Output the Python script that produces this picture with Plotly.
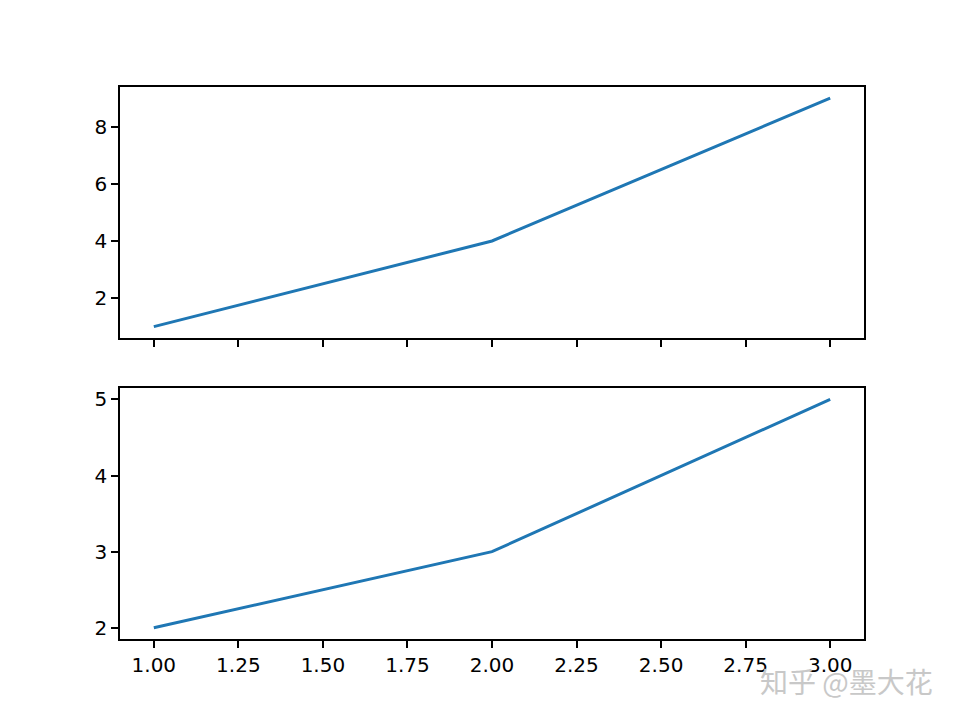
import plotly.graph_objects as go
from plotly.subplots import make_subplots

# data
x_vals = [1, 2, 3]
y_top = [1, 4, 9]
y_bottom = [2, 3, 5]

x_ticks = [1.0, 1.25, 1.5, 1.75, 2.0, 2.25, 2.5, 2.75, 3.0]
x_tick_text = ['1.00', '1.25', '1.50', '1.75', '2.00', '2.25', '2.50', '2.75', '3.00']

line_color = '#1f77b4'
font_px = 20

fig = make_subplots(rows=2, cols=1, shared_xaxes=True)

fig.add_trace(go.Scatter(x=x_vals, y=y_top, mode='lines',
                         line=dict(color=line_color, width=3)), row=1, col=1)
fig.add_trace(go.Scatter(x=x_vals, y=y_bottom, mode='lines',
                         line=dict(color=line_color, width=3)), row=2, col=1)

axis_style = dict(showline=True, linecolor='black', linewidth=1.7, mirror=True,
                  ticks='outside', ticklen=7, tickwidth=1.7, tickcolor='black',
                  showgrid=False, zeroline=False,
                  tickfont=dict(family='DejaVu Sans', size=font_px, color='black'))

fig.update_xaxes(**axis_style)
fig.update_yaxes(**axis_style)

# page puts the plot 8px in from the top-left, so domains are shifted by that
fig.update_layout(
    width=960, height=720,
    margin=dict(l=0, r=0, t=0, b=0),
    paper_bgcolor='white', plot_bgcolor='white',
    showlegend=False,
    xaxis=dict(domain=[112 / 960, 856 / 960], range=[0.9, 3.1], tickvals=x_ticks,
               showticklabels=False),
    xaxis2=dict(domain=[112 / 960, 856 / 960], range=[0.9, 3.1], tickvals=x_ticks,
                ticktext=x_tick_text),
    yaxis=dict(domain=[1 - 330 / 720, 1 - 78 / 720], range=[0.6, 9.4],
               tickvals=[2, 4, 6, 8]),
    yaxis2=dict(domain=[1 - 632 / 720, 1 - 380 / 720], range=[1.85, 5.15],
                tickvals=[2, 3, 4, 5]),
)

# watermark
fig.add_annotation(text='知乎 @墨大花', xref='paper', yref='paper',
                   x=927 / 960, y=1 - 674 / 720, xanchor='right', yanchor='middle',
                   showarrow=False,
                   font=dict(family='Noto Sans CJK SC', size=28, color='#c8c8c8'))

fig.write_html('out.html')
